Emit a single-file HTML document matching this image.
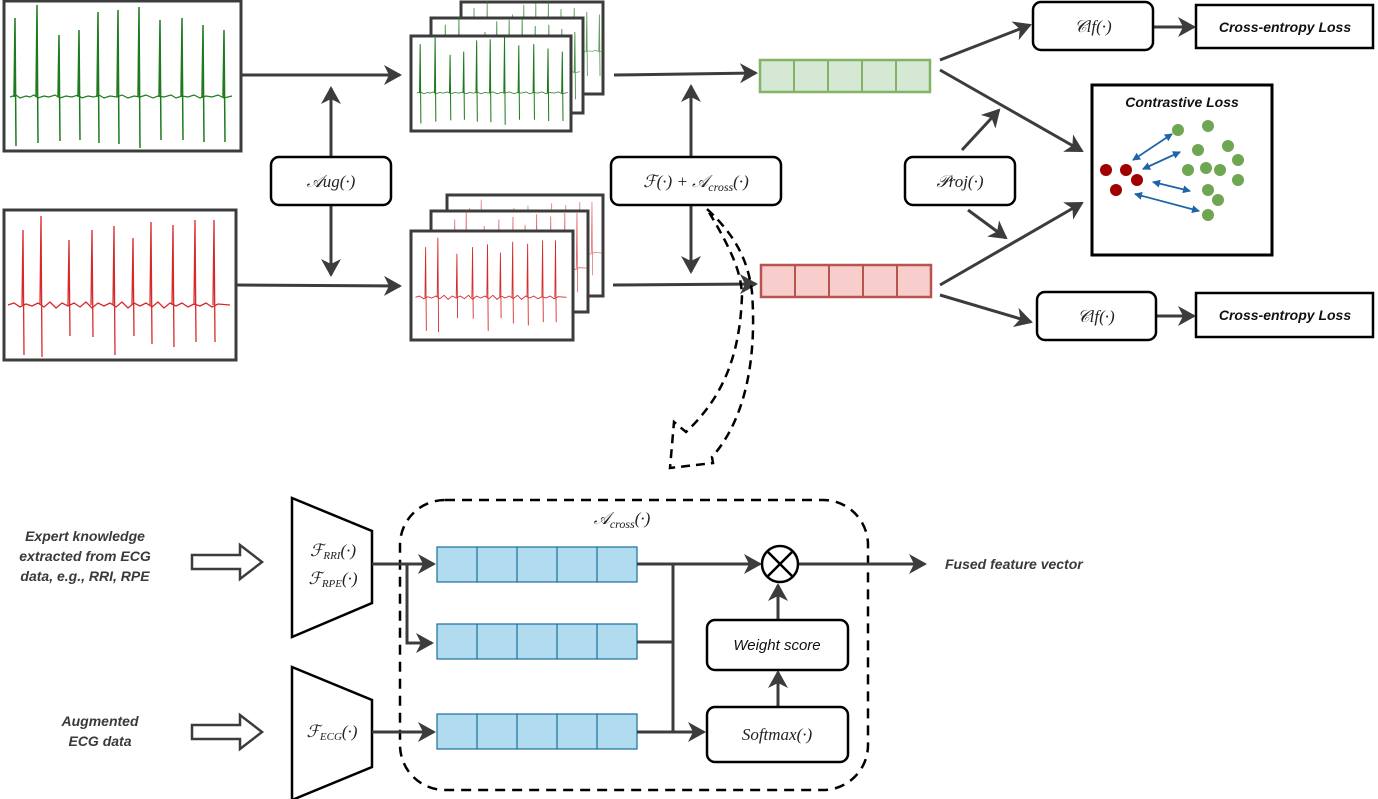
<!DOCTYPE html>
<html><head><meta charset="utf-8"><style>
body{margin:0;background:#fff}
svg{display:block}
.m{font-family:"Liberation Serif",serif;font-style:italic;font-size:17px;fill:#222}
.b{font-family:"Liberation Sans",sans-serif;font-weight:bold;font-style:italic;font-size:14px;fill:#111}
.g{font-family:"Liberation Sans",sans-serif;font-weight:bold;font-style:italic;font-size:14px;fill:#3a3a3a}
</style></head><body>
<svg width="1378" height="799" viewBox="0 0 1378 799" xmlns="http://www.w3.org/2000/svg">
<defs>
<marker id="a" markerWidth="10" markerHeight="10" refX="8" refY="5" orient="auto" markerUnits="userSpaceOnUse"><path d="M0,0 L10,5 L0,10 L3,5 z" fill="#3c3c3c"/></marker>
<marker id="a2" markerWidth="20" markerHeight="20" refX="16" refY="10" orient="auto" markerUnits="userSpaceOnUse"><path d="M0,0 L18,10 L0,20 L5,10 z" fill="#3c3c3c"/></marker>
<marker id="s" markerWidth="8" markerHeight="8" refX="7" refY="4" orient="auto-start-reverse" markerUnits="userSpaceOnUse"><path d="M0,0 L8,4 L0,8 z" fill="#1f64a8"/></marker>
<g id="ecgG">
<path d="M10,97 L16,95 L20,98 L26,96 L30,97 L34,95 L38,98 L44,96 L49,97 L55,95 L60,98 L66,96 L72,97 L78,95 L82,98 L88,96 L94,97 L99,95 L104,98 L110,96 L117,97 L122,95 L128,98 L134,96 L140,97 L146,95 L153,98 L158,96 L164,97 L171,95 L176,98 L182,96 L188,97 L194,95 L200,98 L206,96 L212,97 L218,95 L224,98 L232,96" fill="none" stroke="#1e7a1e" stroke-width="1.2"/>
<path d="M14,97 L15,18 L16,146 M36,97 L37,5 L38,143 M58,97 L59,35 L60,141 M78,97 L79,30 L80,140 M97,97 L98,12 L99,143 M117,97 L118,10 L119,144 M138,97 L139,7 L140,148 M159,97 L160,20 L161,140 M181,97 L182,18 L183,140 M202,97 L203,25 L204,142 M223,97 L224,30 L225,142" fill="none" stroke="#1e7a1e" stroke-width="1.5"/>
</g>
<g id="ecgR">
<path d="M8,305 L14,303 L20,307 L26,304 L32,306 L38,303 L44,307 L50,302 L56,308 L62,303 L68,306 L74,303 L80,307 L86,302 L92,308 L98,303 L104,306 L110,303 L116,307 L122,302 L128,308 L134,303 L140,306 L146,303 L152,307 L158,302 L164,308 L170,303 L176,306 L182,303 L188,307 L194,304 L200,306 L206,303 L212,307 L218,304 L230,305" fill="none" stroke="#d62a2a" stroke-width="1.3"/>
<path d="M22,305 L23,230 L24,355 M40,305 L41,216 L42,357 M68,305 L69,240 L70,336 M91,305 L92,230 L93,337 M113,305 L114,226 L115,355 M132,305 L133,238 L134,336 M150,305 L151,222 L152,344 M172,305 L173,225 L174,347 M194,305 L195,220 L196,342 M213,305 L214,220 L215,342" fill="none" stroke="#d62a2a" stroke-width="1.3"/>
</g>
</defs>

<rect x="4" y="1" width="237" height="150" fill="#fff" stroke="#3c3c3c" stroke-width="3"/>
<use href="#ecgG"/>
<rect x="4" y="210" width="232" height="150" fill="#fff" stroke="#3c3c3c" stroke-width="3"/>
<use href="#ecgR"/>

<!-- green stack -->
<rect x="461" y="2" width="142" height="92" fill="#fff" stroke="#3c3c3c" stroke-width="3"/>
<g transform="translate(465,-2) scale(0.6,0.55)" opacity="0.7"><use href="#ecgG"/></g>
<rect x="431" y="18" width="152" height="95" fill="#fff" stroke="#3c3c3c" stroke-width="3"/>
<g transform="translate(436,14) scale(0.62,0.6)" opacity="0.8"><use href="#ecgG"/></g>
<rect x="411" y="36" width="160" height="95" fill="#fff" stroke="#3c3c3c" stroke-width="3"/>
<g transform="translate(410,33) scale(0.68,0.62)"><use href="#ecgG"/></g>

<!-- red stack -->
<rect x="447" y="195" width="156" height="101" fill="#fff" stroke="#3c3c3c" stroke-width="3"/>
<g transform="translate(455,70) scale(0.64,0.6)" opacity="0.6"><use href="#ecgR"/></g>
<rect x="431" y="211" width="157" height="101" fill="#fff" stroke="#3c3c3c" stroke-width="3"/>
<g transform="translate(440,70) scale(0.64,0.65)" opacity="0.7"><use href="#ecgR"/></g>
<rect x="411" y="231" width="162" height="109" fill="#fff" stroke="#3c3c3c" stroke-width="3"/>
<g transform="translate(410,93) scale(0.68,0.67)"><use href="#ecgR"/></g>

<g stroke="#3c3c3c" stroke-width="3" fill="none">
<line x1="241" y1="75" x2="400" y2="75" marker-end="url(#a2)"/>
<line x1="236" y1="285" x2="400" y2="286" marker-end="url(#a2)"/>
<line x1="331" y1="157" x2="331" y2="88" marker-end="url(#a2)"/>
<line x1="331" y1="205" x2="331" y2="275" marker-end="url(#a2)"/>
<line x1="614" y1="75" x2="756" y2="73" marker-end="url(#a2)"/>
<line x1="613" y1="285" x2="756" y2="284" marker-end="url(#a2)"/>
<line x1="691" y1="157" x2="691" y2="86" marker-end="url(#a2)"/>
<line x1="691" y1="205" x2="691" y2="272" marker-end="url(#a2)"/>
<line x1="940" y1="60" x2="1030" y2="25" marker-end="url(#a2)"/>
<line x1="1153" y1="27" x2="1194" y2="27" marker-end="url(#a2)"/>
<line x1="940" y1="70" x2="1082" y2="151" marker-end="url(#a2)"/>
<line x1="962" y1="150" x2="999" y2="110" marker-end="url(#a2)"/>
<line x1="968" y1="210" x2="1006" y2="238" marker-end="url(#a2)"/>
<line x1="940" y1="285" x2="1082" y2="203" marker-end="url(#a2)"/>
<line x1="940" y1="295" x2="1031" y2="322" marker-end="url(#a2)"/>
<line x1="1156" y1="316" x2="1194" y2="316" marker-end="url(#a2)"/>
</g>

<rect x="271" y="157" width="120" height="48" rx="8" fill="#fff" stroke="#000" stroke-width="2.5"/>
<text x="331" y="187" class="m" text-anchor="middle">𝒜ug(·)</text>
<rect x="611" y="157" width="170" height="48" rx="8" fill="#fff" stroke="#000" stroke-width="2.5"/>
<text x="696" y="187" class="m" text-anchor="middle">ℱ(·) + 𝒜<tspan font-size="12" dy="4">cross</tspan><tspan dy="-4">(·)</tspan></text>
<rect x="905" y="157" width="110" height="48" rx="8" fill="#fff" stroke="#000" stroke-width="2.5"/>
<text x="960" y="187" class="m" text-anchor="middle">𝒫roj(·)</text>

<rect x="760" y="60" width="170" height="32" stroke="#82b366" stroke-width="2.5" fill="#d5e8d4"/>
<g stroke="#82b366" stroke-width="2"><line x1="794" y1="60" x2="794" y2="92"/><line x1="828" y1="60" x2="828" y2="92"/><line x1="862" y1="60" x2="862" y2="92"/><line x1="896" y1="60" x2="896" y2="92"/></g>
<rect x="761" y="265" width="170" height="32" fill="#f8cecc" stroke="#b85450" stroke-width="2.5"/>
<g stroke="#b85450" stroke-width="2"><line x1="795" y1="265" x2="795" y2="297"/><line x1="829" y1="265" x2="829" y2="297"/><line x1="863" y1="265" x2="863" y2="297"/><line x1="897" y1="265" x2="897" y2="297"/></g>

<rect x="1033" y="2" width="120" height="48" rx="8" fill="#fff" stroke="#000" stroke-width="2.5"/>
<text x="1093" y="32" class="m" text-anchor="middle">𝒞lf(·)</text>
<rect x="1196" y="5" width="177" height="43" fill="#fff" stroke="#000" stroke-width="2.5"/>
<text x="1285" y="32" class="b" text-anchor="middle">Cross-entropy Loss</text>
<rect x="1037" y="292" width="119" height="48" rx="8" fill="#fff" stroke="#000" stroke-width="2.5"/>
<text x="1096" y="322" class="m" text-anchor="middle">𝒞lf(·)</text>
<rect x="1196" y="293" width="177" height="44" fill="#fff" stroke="#000" stroke-width="2.5"/>
<text x="1285" y="320" class="b" text-anchor="middle">Cross-entropy Loss</text>

<rect x="1092" y="85" width="180" height="170" fill="#fff" stroke="#000" stroke-width="3"/>
<text x="1182" y="107" class="b" text-anchor="middle">Contrastive Loss</text>
<g fill="#a00000"><circle cx="1106" cy="170" r="6"/><circle cx="1126" cy="170" r="6"/><circle cx="1137" cy="180" r="6"/><circle cx="1116" cy="190" r="6"/></g>
<g fill="#6fa651"><circle cx="1178" cy="130" r="6"/><circle cx="1208" cy="126" r="6"/><circle cx="1198" cy="150" r="6"/><circle cx="1228" cy="146" r="6"/><circle cx="1238" cy="160" r="6"/><circle cx="1188" cy="170" r="6"/><circle cx="1206" cy="168" r="6"/><circle cx="1220" cy="170" r="6"/><circle cx="1238" cy="180" r="6"/><circle cx="1208" cy="190" r="6"/><circle cx="1218" cy="200" r="6"/><circle cx="1208" cy="215" r="6"/></g>
<g stroke="#1f64a8" stroke-width="1.8" fill="none">
<line x1="1133" y1="160" x2="1172" y2="134" marker-start="url(#s)" marker-end="url(#s)"/>
<line x1="1143" y1="169" x2="1180" y2="152" marker-start="url(#s)" marker-end="url(#s)"/>
<line x1="1153" y1="182" x2="1190" y2="191" marker-start="url(#s)" marker-end="url(#s)"/>
<line x1="1135" y1="194" x2="1199" y2="211" marker-start="url(#s)" marker-end="url(#s)"/>
</g>

<path d="M707,209 C735,235 748,260 752,292 C757,360 745,420 712,457 L713,463 L670,468 L674,422 L686,432 C720,400 740,360 742,295 C741,275 735,255 707,209" fill="none" stroke="#000" stroke-width="2.5" stroke-dasharray="9,6"/>

<text x="85" y="541" class="g" text-anchor="middle">Expert knowledge</text>
<text x="85" y="561" class="g" text-anchor="middle">extracted from ECG</text>
<text x="85" y="581" class="g" text-anchor="middle">data, e.g., RRI, RPE</text>
<text x="100" y="726" class="g" text-anchor="middle">Augmented</text>
<text x="100" y="746" class="g" text-anchor="middle">ECG data</text>
<path d="M192,555 L240,555 L240,545 L262,562 L240,579 L240,569 L192,569 z" fill="#fff" stroke="#3c3c3c" stroke-width="2.5"/>
<path d="M192,725 L240,725 L240,715 L262,732 L240,749 L240,739 L192,739 z" fill="#fff" stroke="#3c3c3c" stroke-width="2.5"/>
<path d="M292,498 L372,531 L372,603 L292,637 z" fill="#fff" stroke="#000" stroke-width="2.5"/>
<path d="M292,667 L372,700 L372,767 L292,800 z" fill="#fff" stroke="#000" stroke-width="2.5"/>
<text x="333" y="556" class="m" text-anchor="middle" font-size="16">ℱ<tspan font-size="11" dy="3">RRI</tspan><tspan dy="-3">(·)</tspan></text>
<text x="333" y="584" class="m" text-anchor="middle" font-size="16">ℱ<tspan font-size="11" dy="3">RPE</tspan><tspan dy="-3">(·)</tspan></text>
<text x="332" y="737" class="m" text-anchor="middle" font-size="16">ℱ<tspan font-size="11" dy="3">ECG</tspan><tspan dy="-3">(·)</tspan></text>

<rect x="400" y="500" width="468" height="290" rx="45" fill="none" stroke="#000" stroke-width="2.5" stroke-dasharray="10,7"/>
<text x="622" y="524" class="m" text-anchor="middle">𝒜<tspan font-size="12" dy="4">cross</tspan><tspan dy="-4">(·)</tspan></text>

<g stroke="#1a6e9e" stroke-width="1.2" fill="#b1dcef">
<rect x="437" y="547" width="200" height="35"/><rect x="437" y="624" width="200" height="35"/><rect x="437" y="714" width="200" height="35"/>
</g>
<g stroke="#1a6e9e" stroke-width="1.2">
<path d="M477,547V582M517,547V582M557,547V582M597,547V582M477,624V659M517,624V659M557,624V659M597,624V659M477,714V749M517,714V749M557,714V749M597,714V749"/>
</g>
<g stroke="#3c3c3c" stroke-width="3" fill="none">
<line x1="372" y1="564" x2="434" y2="564" marker-end="url(#a2)"/>
<path d="M407,564 L407,643 L432,643" marker-end="url(#a2)"/>
<line x1="372" y1="732" x2="434" y2="732" marker-end="url(#a2)"/>
<line x1="637" y1="564" x2="760" y2="564" marker-end="url(#a2)"/>
<path d="M673,564 L673,732"/>
<line x1="637" y1="642" x2="673" y2="642"/>
<line x1="637" y1="732" x2="704" y2="732" marker-end="url(#a2)"/>
<line x1="778" y1="707" x2="778" y2="672" marker-end="url(#a2)"/>
<line x1="778" y1="620" x2="778" y2="585" marker-end="url(#a2)"/>
<line x1="798" y1="564" x2="925" y2="564" marker-end="url(#a2)"/>
</g>
<circle cx="780" cy="564" r="18" fill="#fff" stroke="#000" stroke-width="2.5"/>
<path d="M767,551 L793,577 M793,551 L767,577" stroke="#000" stroke-width="2.5"/>
<rect x="707" y="620" width="141" height="50" rx="8" fill="#fff" stroke="#000" stroke-width="2.5"/>
<text x="777" y="650" text-anchor="middle" font-family="Liberation Sans,sans-serif" font-style="italic" font-size="15" fill="#111">Weight score</text>
<rect x="707" y="707" width="141" height="55" rx="8" fill="#fff" stroke="#000" stroke-width="2.5"/>
<text x="777" y="740" class="m" text-anchor="middle">Softmax(·)</text>
<text x="945" y="569" class="g">Fused feature vector</text>
</svg>
</body></html>
